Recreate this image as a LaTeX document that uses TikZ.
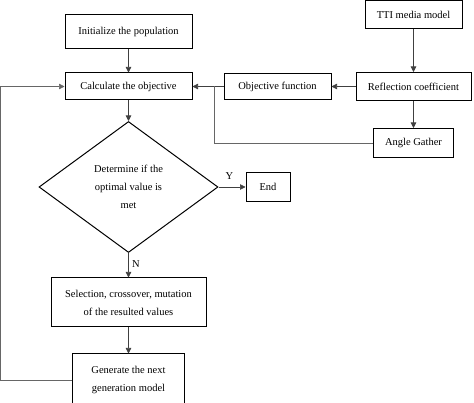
\documentclass[tikz,border=0pt]{standalone}
\usepackage{fontspec}
\setmainfont{Liberation Serif}
\usetikzlibrary{arrows.meta, positioning, calc, shapes.geometric}

\begin{document}
\begin{tikzpicture}[
    x=1pt, y=1pt,
    font=\fontsize{10.5}{18}\selectfont,
    box/.style={draw, line width=1pt, rectangle, align=center, inner sep=2pt},
    decision/.style={draw, line width=1pt, diamond, align=center, inner sep=0pt, minimum width=179pt, minimum height=131pt},
    arrow/.style={-{Triangle[length=5.5pt, width=5.5pt]}, line width=0.6pt, black!75},
    link/.style={line width=0.6pt, black!60}
]
\useasboundingbox (0,0) rectangle (474,-403);

% Main column
\node[box, minimum width=127pt, minimum height=34pt] (init) at (128.5,-32) {Initialize the population};
\node[box, minimum width=127pt, minimum height=27pt, below=23pt of init] (calc) {Calculate the objective};
\node[decision, below=20.5pt of calc] (check) {Determine if the\\optimal value is\\met};
\node[box, minimum width=44pt, minimum height=29pt, right=27pt of check] (finish) {End};
\node[box, minimum width=155pt, minimum height=49pt, below=24.5pt of check] (select) {Selection, crossover, mutation\\of the resulted values};
\node[box, minimum width=112pt, minimum height=52pt, below=26pt of select] (nextgen) {Generate the next\\generation model};

% Model side
\node[box, minimum width=107pt, minimum height=26pt, right=31pt of calc] (objfun) {Objective function};
\node[box, minimum width=115pt, minimum height=28pt, right=24pt of objfun] (refl) {Reflection coefficient};
\node[box, minimum width=97pt, minimum height=28pt, above=42.5pt of refl] (tti) {TTI media model};
\node[box, minimum width=80pt, minimum height=29pt, below=27pt of refl] (angle) {Angle Gather};

\coordinate (join) at ($(calc.east)!0.7!(objfun.west)$);

% Flow
\draw[arrow] (init) -- (calc);
\draw[arrow] (calc) -- (check);
\draw[arrow] (check.east) -- node[pos=0.4, above=4pt, black] {Y} (finish);
\draw[arrow] (check.south) -- node[pos=0.45, right, black] {N} (select);
\draw[arrow] (select) -- (nextgen);
\draw[arrow, black!60] (nextgen.west) -- ++(-72,0) |- (calc.west);

% Model inputs
\draw[arrow] (tti) -- (refl);
\draw[arrow] (refl) -- (objfun);
\draw[arrow] (refl) -- (angle);
\draw[arrow] (objfun) -- (calc);
\draw[link] (angle.west) -| (join);

\end{tikzpicture}
\end{document}
